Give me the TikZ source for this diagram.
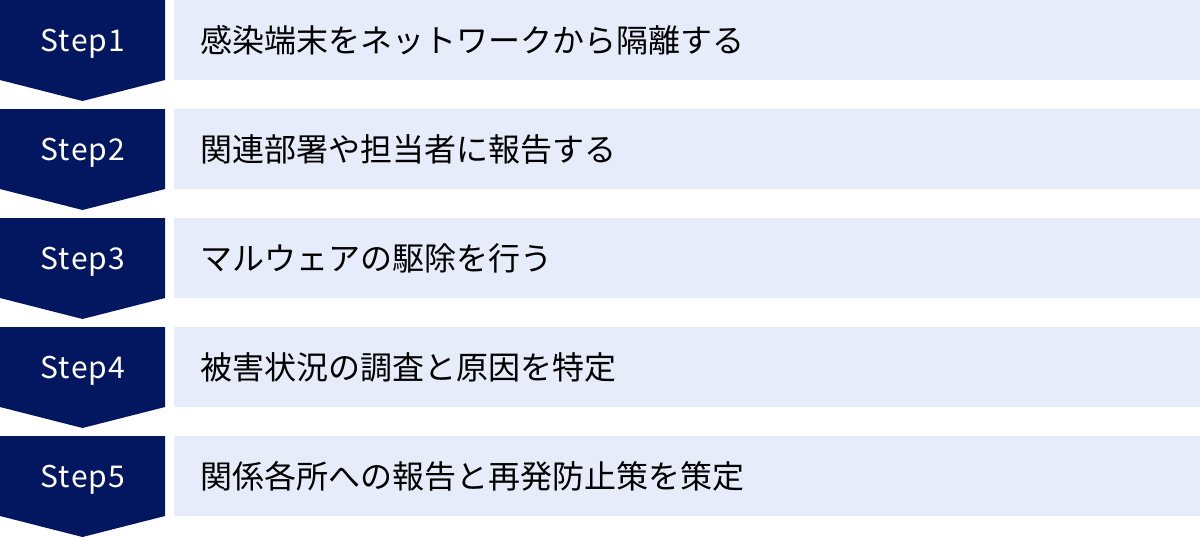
\documentclass[tikz,border=0pt]{standalone}
\usepackage{fontspec}
\setmainfont{Noto Sans CJK JP}
\newfontfamily\stepfont{Noto Sans CJK JP}[LetterSpace=4]
\definecolor{stepnavy}{RGB}{3,23,96}
\definecolor{tasklight}{RGB}{230,236,249}
\tikzset{
  % the dark chevron on the left
  stepshape/.style={fill=stepnavy},
  % its white label
  steplabel/.style={
    text=white,anchor=base,
    font=\stepfont\fontsize{30}{30}\selectfont,
    inner sep=0pt},
  % the pale bar with the task
  taskbox/.style={
    % The shape:
    rectangle,anchor=north west,
    minimum width=1026pt,minimum height=80pt,
    text width=974pt,inner xsep=26pt,inner ysep=0pt,align=left,
    % The filling:
    fill=tasklight,
    font=\fontsize{32}{32}\selectfont}}

\begin{document}
\begin{tikzpicture}[x=1pt,y=-1pt]
	\useasboundingbox (0,0) rectangle (1200,538);
	\foreach \i/\task in {1/感染端末をネットワークから隔離する,
		2/関連部署や担当者に報告する,
		3/マルウェアの駆除を行う,
		4/被害状況の調査と原因を特定,
		5/関係各所への報告と再発防止策を策定}{
		\pgfmathsetmacro{\top}{109*(\i-1)}
		% Chevron of step \i
		\fill[stepshape] (0,\top) -- ++(165,0) -- ++(0,80) -- ++(-82.5,21) -- ++(-82.5,-21) -- cycle;
		\node[steplabel] (step\i) at (83,\top+51.5) {Step\i};
		% Task of step \i
		\node[taskbox] (task\i) at (174,\top) {\task};
	}
\end{tikzpicture}
\end{document}
